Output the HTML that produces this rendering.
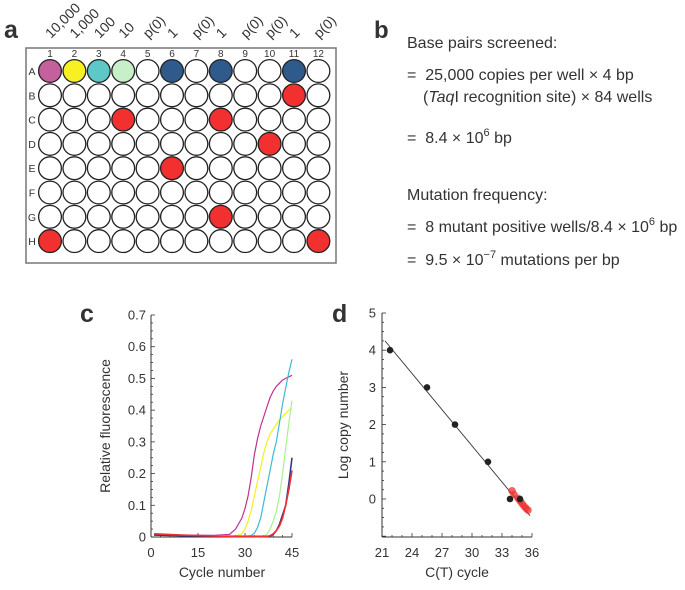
<!DOCTYPE html>
<html><head><meta charset="utf-8"><style>
body{margin:0;background:#fff;font-family:"Liberation Sans",sans-serif;}
svg text{font-family:"Liberation Sans",sans-serif;}
</style></head><body>
<svg width="685" height="585" viewBox="0 0 685 585" xmlns="http://www.w3.org/2000/svg">
<g id="pa">
<text x="4" y="38" font-size="25" font-weight="bold" fill="#333">a</text>
<rect x="26" y="48" width="310" height="215" fill="#fff" stroke="#777" stroke-width="1.5"/>
</g>
<g id="pb" fill="#333" font-size="16">
<text x="374" y="38" font-size="24" font-weight="bold">b</text>
<text x="407" y="48">Base pairs screened:</text>
<text x="407" y="80">=&#160;&#160;25,000 copies per well × 4 bp</text>
<text x="423" y="102">(<tspan font-style="italic">Taq</tspan>I recognition site) × 84 wells</text>
<text x="407" y="143">=&#160;&#160;8.4 × 10<tspan dy="-7" font-size="11">6</tspan><tspan dy="7"> bp</tspan></text>
<text x="407" y="200">Mutation frequency:</text>
<text x="407" y="232">=&#160;&#160;8 mutant positive wells/8.4 × 10<tspan dy="-7" font-size="11">6</tspan><tspan dy="7"> bp</tspan></text>
<text x="407" y="265">=&#160;&#160;9.5 × 10<tspan dy="-7" font-size="11">−7</tspan><tspan dy="7"> mutations per bp</tspan></text>
</g>
<g id="pc">
<text x="80" y="322" font-size="25" font-weight="bold" fill="#333">c</text>
</g>
<g id="pd">
<text x="332" y="322" font-size="25" font-weight="bold" fill="#333">d</text>
</g>
</svg>
<script>
// ---- Panel a data ----
const plateCols=[1,2,3,4,5,6,7,8,9,10,11,12];
const plateRows=["A","B","C","D","E","F","G","H"];
const colHeaders=["10,000","1,000","100","10","p(0)","1","p(0)","1","p(0)","p(0)","1","p(0)"];
const filledWells=["A1","A2","A3","A4","A6","A8","A11","B11","C4","C8","D10","E6","G8","H1","H12"];
const filledColors=["#c4609c","#f7f022","#5ec8c8","#c8f0c8","#2e5a8c","#2e5a8c","#2e5a8c","#f23030","#f23030","#f23030","#f23030","#f23030","#f23030","#f23030","#f23030"];
// ---- Panel c data ----
const cycles=[1,10,20,25,27,29,30,31,32,33,34,35,36,37,38,39,40,41,42,43,44,45];
const magenta=[0.008,0.006,0.005,0.008,0.025,0.06,0.09,0.13,0.19,0.26,0.31,0.35,0.38,0.41,0.44,0.46,0.475,0.485,0.495,0.5,0.505,0.51];
const yellow=[0.008,0.005,0.004,0.003,0.003,0.01,0.025,0.05,0.085,0.13,0.175,0.22,0.265,0.3,0.325,0.34,0.355,0.37,0.38,0.39,0.4,0.405];
const cyan=[0.008,0.005,0.004,0.003,0.003,0.003,0.003,0.003,0.005,0.012,0.03,0.06,0.11,0.16,0.21,0.26,0.3,0.36,0.42,0.47,0.52,0.56];
const green=[0.008,0.005,0.004,0.003,0.003,0.003,0.003,0.003,0.003,0.003,0.003,0.003,0.003,0.008,0.025,0.05,0.08,0.13,0.2,0.28,0.36,0.43];
const blue=[0.006,0.004,0.003,0.002,0.002,0.002,0.002,0.002,0.002,0.002,0.002,0.002,0.002,0.002,0.003,0.008,0.02,0.04,0.07,0.1,0.17,0.25];
const red=[0.01,0.006,0.003,0.002,0.002,0.002,0.002,0.002,0.002,0.002,0.002,0.002,0.002,0.002,0.004,0.01,0.02,0.035,0.06,0.1,0.15,0.21];
const seriesC=[magenta,yellow,cyan,green,blue,red];
const seriesCColors=["#c0308c","#f5ee20","#40b8d8","#a8f090","#303890","#f03030"];
const seriesCNames=["series-10000","series-1000","series-100","series-10","series-1","series-mutant"];
const cYTicks=[0,0.1,0.2,0.3,0.4,0.5,0.6,0.7];
const cXTicks=[0,15,30,45];
// ---- Panel d data ----
const stdCt=[21.8,25.5,28.3,31.6,33.8,34.8];
const stdLog=[4,3,2,1,0,0];
const mutCt=[34.0,34.2,34.6,34.8,35.0,35.2,35.4,35.6];
const mutLog=[0.22,0.12,0.02,-0.05,-0.12,-0.19,-0.25,-0.3];
const fitLine=[[21.3,4.25],[35.8,-0.45]];
const dYTicks=[0,1,2,3,4,5];
const dXTicks=[21,24,27,30,33,36];

const NS="http://www.w3.org/2000/svg";
function mk(tag,attrs,parent){const e=document.createElementNS(NS,tag);for(const k in attrs)e.setAttribute(k,attrs[k]);parent.appendChild(e);return e;}

// Panel a
const pa=document.getElementById('pa');
const wx=c=>50+(c-1)*24.4, wy=r=>71+r*24.3;
plateCols.forEach((c,i)=>{
  const t=mk('text',{x:wx(c),y:57,'font-size':10,'text-anchor':'middle',fill:'#333'},pa);t.textContent=c;
  
  
  const h=mk('text',{x:0,y:0,'font-size':14,fill:'#333',transform:`translate(${wx(c)+1},${39}) rotate(-45)`},pa);h.textContent=colHeaders[i];
  
  
});
plateRows.forEach((r,ri)=>{
  const t=mk('text',{x:32,y:wy(ri)+4,'font-size':10.5,'text-anchor':'middle',fill:'#333'},pa);t.textContent=r;
  
  
  plateCols.forEach(c=>{
    const id=r+c;const fi=filledWells.indexOf(id);
    const w=mk('circle',{cx:wx(c),cy:wy(ri),r:11.4,fill:fi>=0?filledColors[fi]:'#fff',stroke:'#222','stroke-width':1.3},pa);
    
    
  });
});

// Panel c
const pc=document.getElementById('pc');
const cx=v=>151+v*(141/45), cy=v=>537-v*(222/0.7);
let ax=mk('line',{x1:151,y1:315,x2:151,y2:537,stroke:'#333','stroke-width':1},pc);

ax=mk('line',{x1:151,y1:537,x2:292,y2:537,stroke:'#333','stroke-width':1},pc);

for(let v=0;v<=0.7001;v+=0.025){const big=Math.abs(v*10-Math.round(v*10))<1e-6;mk('line',{x1:151,x2:big?155:153,y1:cy(v),y2:cy(v),stroke:'#333','stroke-width':0.8},pc);}
for(let v=0;v<=45;v+=3){mk('line',{x1:cx(v),x2:cx(v),y1:537,y2:v%15===0?533:535,stroke:'#333','stroke-width':0.8},pc);}
cYTicks.forEach(v=>{const t=mk('text',{x:146,y:cy(v)+4.5,'font-size':13,'text-anchor':'end',fill:'#333'},pc);t.textContent=v===0?'0':v.toFixed(1);
  });
cXTicks.forEach(v=>{const t=mk('text',{x:cx(v),y:557,'font-size':13,'text-anchor':'middle',fill:'#333'},pc);t.textContent=v;
  });
let tt=mk('text',{x:222,y:577,'font-size':14,'text-anchor':'middle',fill:'#333'},pc);tt.textContent='Cycle number';

tt=mk('text',{x:0,y:0,'font-size':14,'text-anchor':'middle',fill:'#333',transform:'translate(110,426) rotate(-90)'},pc);tt.textContent='Relative fluorescence';

seriesC.forEach((s,i)=>{
  const d=s.map((v,j)=>(j?'L':'M')+cx(cycles[j]).toFixed(1)+','+cy(v).toFixed(1)).join('');
  const p=mk('path',{d:d,fill:'none',stroke:seriesCColors[i],'stroke-width':i>=4?1.6:1.2,'stroke-linejoin':'round'},pc);
  
  
});

// Panel d
const pd=document.getElementById('pd');
const dx=v=>382+(v-21)*10, dy=v=>499-v*37.2;
ax=mk('line',{x1:382,y1:313,x2:382,y2:537,stroke:'#333','stroke-width':1},pd);

ax=mk('line',{x1:382,y1:537,x2:532,y2:537,stroke:'#333','stroke-width':1},pd);

for(let v=-1;v<=5.001;v+=0.25){const big=Math.abs(v-Math.round(v))<1e-6;mk('line',{x1:382,x2:big?386:384,y1:dy(v),y2:dy(v),stroke:'#333','stroke-width':0.8},pd);}
for(let v=21;v<=36;v+=1){mk('line',{x1:dx(v),x2:dx(v),y1:537,y2:(v%3===0)?533:535,stroke:'#333','stroke-width':0.8},pd);}
dYTicks.forEach(v=>{const t=mk('text',{x:376,y:dy(v)+4.5,'font-size':13,'text-anchor':'end',fill:'#333'},pd);t.textContent=v;
  });
dXTicks.forEach(v=>{const t=mk('text',{x:dx(v),y:557,'font-size':13,'text-anchor':'middle',fill:'#333'},pd);t.textContent=v;
  });
tt=mk('text',{x:457,y:577,'font-size':14,'text-anchor':'middle',fill:'#333'},pd);tt.textContent='C(T) cycle';

tt=mk('text',{x:0,y:0,'font-size':14,'text-anchor':'middle',fill:'#333',transform:'translate(348,425) rotate(-90)'},pd);tt.textContent='Log copy number';

const fl=mk('line',{x1:dx(fitLine[0][0]),y1:dy(fitLine[0][1]),x2:dx(fitLine[1][0]),y2:dy(fitLine[1][1]),stroke:'#333','stroke-width':0.9},pd);

mutCt.forEach((v,i)=>{const c=mk('circle',{cx:dx(v),cy:dy(mutLog[i]),r:3.8,fill:'#f03030','fill-opacity':0.75},pd);
  });
stdCt.forEach((v,i)=>{const c=mk('circle',{cx:dx(v),cy:dy(stdLog[i]),r:3.3,fill:'#222'},pd);
  });
</script>
</body></html>
